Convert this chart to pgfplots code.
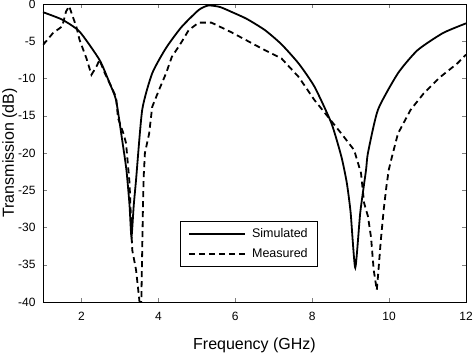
\documentclass[border=0pt]{standalone}
\usepackage{pgfplots}
\pgfplotsset{compat=1.18}
\usepackage{fontspec}
\setmainfont{Liberation Sans}
\begin{document}
\begin{tikzpicture}
\begin{axis}[
  name=ax,
  scale only axis, width=423pt, height=298pt,
  xmin=1, xmax=12, ymin=-40, ymax=0,
  xtick={2,4,6,8,10,12}, ytick={-40,-35,-30,-25,-20,-15,-10,-5,0},
  tick pos=both, tick align=inside,
  major tick length=4pt,
  /pgf/number format/assume math mode=true,
  tick label style={font=\fontsize{12}{14}\selectfont},
  xticklabel style={yshift=-7pt},
  yticklabel style={xshift=-4pt},
  label style={font=\fontsize{16}{18}\selectfont},
  xlabel={Frequency (GHz)}, ylabel={Transmission (dB)},
  xlabel style={yshift=-10pt}, ylabel style={yshift=-6pt},
  axis line style={line width=0.8pt},
  clip=true,
  legend style={at={(rel axis cs:0.487,0.195)}, anchor=center, draw=black, line width=0.8pt,
    font=\fontsize{12.5}{15}\selectfont, row sep=6pt, column sep=4pt, inner xsep=8pt, inner ysep=5pt},
  legend image code/.code={\draw[#1] (0pt,0pt) -- (56pt,0pt);},
  legend cell align=left,
]
\addplot[black, line width=1.8pt, smooth, tension=0.35] coordinates {
(1.0,-1.1) (1.5,-2.1) (1.95,-3.7) (2.47,-7.5) (2.73,-10.6) (2.9,-12.9)
(3.06,-18.3) (3.17,-22.3) (3.25,-27) (3.3,-31.3) (3.36,-27) (3.42,-23.6)
(3.58,-14.2) (3.84,-9.3) (4.2,-5.9) (4.6,-3.1) (5.05,-0.8) (5.3,-0.2)
(5.6,-0.4) (5.92,-1.1) (6.3,-2.0) (6.77,-3.5) (7.2,-5.4) (7.65,-8) (8.06,-11.1)
(8.5,-16) (8.76,-20.5) (8.9,-24) (9.0,-28) (9.12,-35.4) (9.25,-28) (9.4,-22.3)
(9.45,-20) (9.71,-14.2) (10.23,-9.3) (10.74,-6.2) (11.4,-3.9) (12,-2.6)
};
\addlegendentry{Simulated}
\addplot[black, line width=1.8pt, dash pattern=on 6pt off 4pt] coordinates {
(1.0,-5.5) (1.26,-3.9) (1.5,-3.0) (1.6,-1.0) (1.68,-0.3) (1.87,-3.1) (1.95,-4.8)
(2.13,-7.3) (2.26,-9.5) (2.39,-8.4) (2.47,-7.5) (2.6,-9.2) (2.75,-10.8) (2.9,-12.5)
(2.95,-15.3) (3.1,-17.5) (3.16,-18.7) (3.25,-24) (3.32,-33) (3.42,-35.7) (3.5,-39.5)
(3.55,-42) (3.58,-33) (3.6,-27) (3.62,-23) (3.65,-20) (3.76,-17.4) (3.84,-13.8)
(4.02,-11.5) (4.2,-9.3) (4.35,-7.1) (4.58,-5.3) (4.79,-3.5) (5.05,-2.5)
(5.38,-2.5) (5.9,-3.8) (6.3,-4.9) (6.77,-6.2) (7.2,-7.3) (7.65,-9.8) (8.06,-12.9)
(8.42,-15.2) (8.76,-17.4) (9.09,-19.6) (9.27,-22.7) (9.35,-26.7) (9.45,-28.5)
(9.53,-31.3) (9.6,-35.7) (9.68,-38.4) (9.72,-36) (9.78,-32) (9.86,-27.6)
(9.93,-24.5) (9.99,-22.3) (10.05,-21) (10.23,-17.4) (10.56,-14.2) (10.9,-12)
(11.33,-9.8) (11.77,-8) (12,-6.8)
};
\addlegendentry{Measured}
\end{axis}
\pgfresetboundingbox
\path ([xshift=-43pt,yshift=-51pt]ax.south west) rectangle ([xshift=8pt,yshift=4pt]ax.north east);
\end{tikzpicture}
\end{document}
